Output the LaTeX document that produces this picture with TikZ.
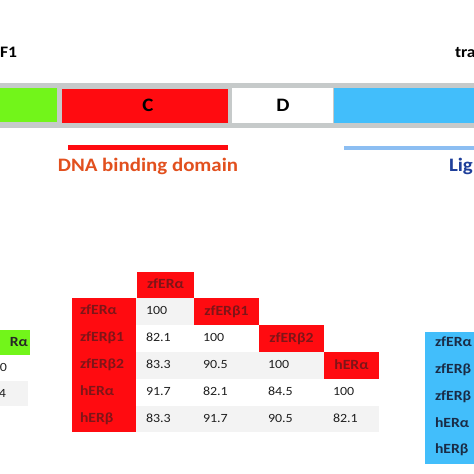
\documentclass[tikz,border=0pt]{standalone}
\usepackage{fontspec}
\setmainfont{Carlito}
\definecolor{bargray}{HTML}{C6CACA}
\definecolor{dgreen}{HTML}{72F51A}
\definecolor{dred}{HTML}{FF0B10}
\definecolor{dblue}{HTML}{42BEFB}
\definecolor{lineblue}{HTML}{8CBEF2}
\definecolor{dnatext}{HTML}{E2501E}
\definecolor{ligtext}{HTML}{1E3F9A}
\definecolor{rowgray}{HTML}{F3F3F3}
\definecolor{labred}{HTML}{7E1518}
\definecolor{labblue}{HTML}{1A2B45}
\begin{document}
\begin{tikzpicture}[x=1pt,y=-1pt,
  every node/.style={inner sep=0pt, outer sep=0pt},
  lab/.style={font=\fontsize{14}{16}\selectfont\bfseries, text=labred, xscale=1.12},
  blab/.style={font=\fontsize{14}{16}\selectfont\bfseries, text=labblue, xscale=1.12, anchor=base west},
  num/.style={font=\fontsize{12.5}{14}\selectfont, text=black!88, xscale=1.12, anchor=base west},
  big/.style={font=\fontsize{19}{21}\selectfont\bfseries, xscale=1.1, anchor=base},
  ttl/.style={font=\fontsize{16}{18}\selectfont\bfseries, xscale=1.1}
]
\useasboundingbox (0,0) rectangle (474,474);
\clip (0,0) rectangle (474,474);
\fill[white] (0,0) rectangle (474,474);

% ---- top labels
\node[ttl, anchor=base east] (f1) at (17,57) {F1};
\node[ttl, anchor=base west] (tra) at (455,57) {tra};

% ---- domain bar
\fill[bargray] (-5,83) rectangle (480,128);
\fill[dgreen] (-5,88) rectangle (57,122);
\fill[dred] (62,89) rectangle (228,123);
\fill[white] (232,88) rectangle (333,123);
\fill[dblue] (334,88) rectangle (480,123);
\node[big] (c) at (148,111.5) {C};
\node[big] (d) at (283,111.5) {D};

% ---- domain lines
\fill[dred] (68,145) rectangle (228,150);
\fill[lineblue] (344,146) rectangle (480,150);
\node[big, text=dnatext] (dna) at (148,171) {DNA binding domain};
\node[big, text=ligtext, anchor=base west] (lig) at (449,171) {Lig};

% ---- left (green) table fragment
\fill[dgreen] (-5,330) rectangle (30,355);
\fill[rowgray] (-5,381) rectangle (28,406);
\node[lab, text=black!85, anchor=base east] (lra) at (28,346.5) {Rα};
\node[num, anchor=base east] (l0) at (7,371) {0};
\node[num, anchor=base east] (l4) at (6,397) {4};

% ---- middle (red) table
\fill[rowgray] (136,298) rectangle (194,325);
\fill[rowgray] (136,352) rectangle (379,379);
\fill[rowgray] (136,406) rectangle (379,432);
\fill[dred] (72,298) rectangle (136,432);
\fill[dred] (137,272) rectangle (194,298);
\fill[dred] (194,298) rectangle (259,325);
\fill[dred] (259,325) rectangle (324,352);
\fill[dred] (324,352) rectangle (379,379);

\node[lab, anchor=base] (h1) at (165.5,288) {zfERα};
\node[lab, anchor=base] (h2) at (226.5,315) {zfERβ1};
\node[lab, anchor=base] (h3) at (291.5,342) {zfERβ2};
\node[lab, anchor=base] (h4) at (351.5,369) {hERα};

\node[lab, anchor=base west] (r1) at (80,314.5) {zfERα};
\node[lab, anchor=base west] (r2) at (80,341.5) {zfERβ1};
\node[lab, anchor=base west] (r3) at (80,368.5) {zfERβ2};
\node[lab, anchor=base west] (r4) at (80,395.5) {hERα};
\node[lab, anchor=base west] (r5) at (80,422) {hERβ};

\node[num] (n11) at (146,314.5) {100};
\node[num] (n21) at (146,341.5) {82.1};
\node[num] (n22) at (203,341.5) {100};
\node[num] (n31) at (146,368.5) {83.3};
\node[num] (n32) at (203,368.5) {90.5};
\node[num] (n33) at (268,368.5) {100};
\node[num] (n41) at (146,395.5) {91.7};
\node[num] (n42) at (203,395.5) {82.1};
\node[num] (n43) at (268,395.5) {84.5};
\node[num] (n44) at (333,395.5) {100};
\node[num] (n51) at (146,422) {83.3};
\node[num] (n52) at (203,422) {91.7};
\node[num] (n53) at (268,422) {90.5};
\node[num] (n54) at (333,422) {82.1};

% ---- right (blue) table fragment
\fill[dblue] (425,332) rectangle (480,464);
\node[blab] (b1) at (435,346.5) {zfERα};
\node[blab] (b2) at (435,373.5) {zfERβ};
\node[blab] (b3) at (435,400.5) {zfERβ};
\node[blab] (b4) at (435,427.5) {hERα};
\node[blab] (b5) at (435,453.5) {hERβ};
\end{tikzpicture}
\end{document}
